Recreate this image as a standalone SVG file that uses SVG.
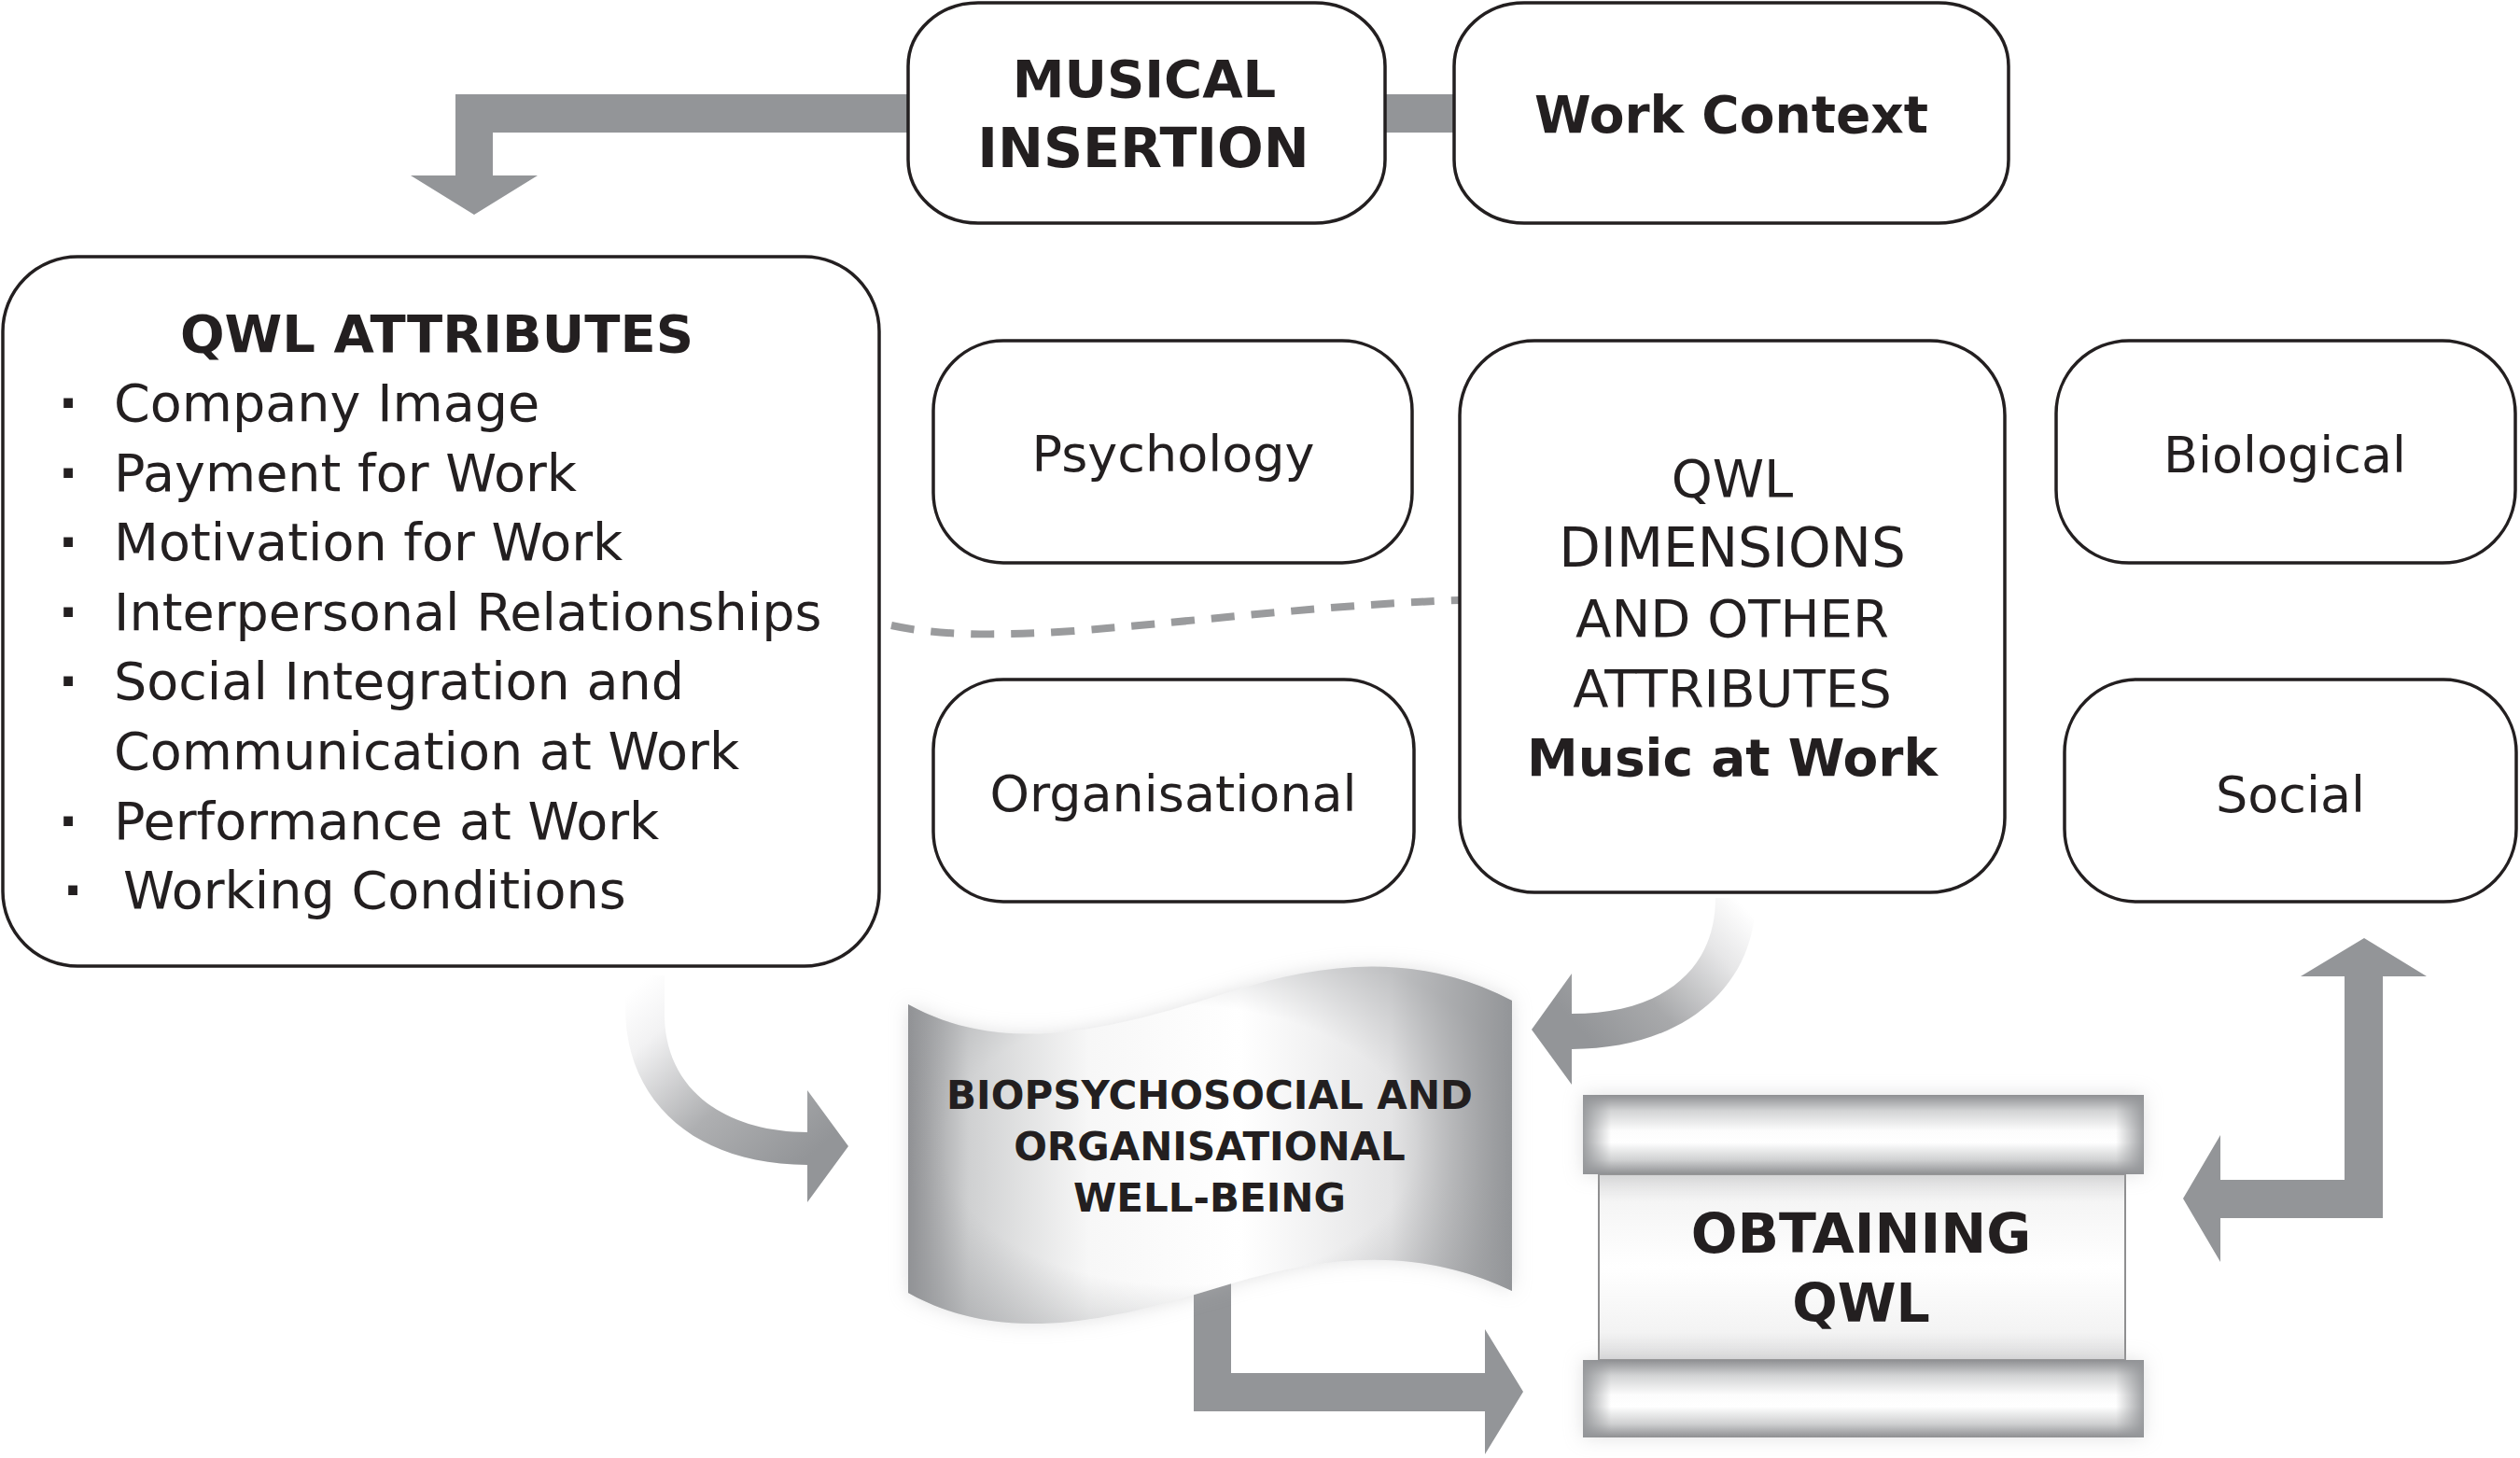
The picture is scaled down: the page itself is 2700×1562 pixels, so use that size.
<svg xmlns="http://www.w3.org/2000/svg" width="2700" height="1562" viewBox="0 0 2700 1562">
<defs>
<style>
.box{fill:#fff;stroke:#231f20;stroke-width:3.5}
.t{font-family:"DejaVu Sans",Verdana,sans-serif;fill:#231f20}
.r{font-size:54px}
.b{font-weight:bold}
.c{text-anchor:middle}
.arrow{fill:#939598}
.dash{fill:none;stroke:#9a9b9d;stroke-width:8;stroke-dasharray:25 18}
</style>
<linearGradient id="gA" gradientUnits="userSpaceOnUse" x1="690" y1="1050" x2="860" y2="1245">
<stop offset="0" stop-color="#ffffff"/>
<stop offset="0.2" stop-color="#f2f2f3"/>
<stop offset="0.6" stop-color="#aeafb1"/>
<stop offset="1" stop-color="#939598"/>
</linearGradient>
<linearGradient id="gB" gradientUnits="userSpaceOnUse" x1="1860" y1="962" x2="1700" y2="1110">
<stop offset="0" stop-color="#ffffff"/>
<stop offset="0.25" stop-color="#e6e6e7"/>
<stop offset="0.65" stop-color="#a8a9ab"/>
<stop offset="1" stop-color="#939598"/>
</linearGradient>
<linearGradient id="gFlag" x1="0" y1="0" x2="1" y2="0">
<stop offset="0" stop-color="#8f9093"/>
<stop offset="0.1" stop-color="#cfd0d1"/>
<stop offset="0.3" stop-color="#f7f7f7"/>
<stop offset="0.55" stop-color="#ffffff"/>
<stop offset="0.8" stop-color="#e4e4e5"/>
<stop offset="0.94" stop-color="#adaeb0"/>
<stop offset="1" stop-color="#939598"/>
</linearGradient>
<radialGradient id="gFlagEdge" cx="0.45" cy="0.5" r="0.6">
<stop offset="0" stop-color="#939598" stop-opacity="0"/>
<stop offset="0.65" stop-color="#939598" stop-opacity="0"/>
<stop offset="1" stop-color="#939598" stop-opacity="0.45"/>
</radialGradient>
<linearGradient id="gBar" x1="0" y1="0" x2="0" y2="1">
<stop offset="0" stop-color="#8e8f92"/>
<stop offset="0.2" stop-color="#d2d3d4"/>
<stop offset="0.45" stop-color="#fcfcfc"/>
<stop offset="0.6" stop-color="#ffffff"/>
<stop offset="0.82" stop-color="#d0d1d2"/>
<stop offset="1" stop-color="#8e8f92"/>
</linearGradient>
<linearGradient id="gBarH" x1="0" y1="0" x2="1" y2="0">
<stop offset="0" stop-color="#939598" stop-opacity="0.9"/>
<stop offset="0.05" stop-color="#939598" stop-opacity="0"/>
<stop offset="0.95" stop-color="#939598" stop-opacity="0"/>
<stop offset="1" stop-color="#939598" stop-opacity="0.9"/>
</linearGradient>
<linearGradient id="gPanel" x1="0" y1="0" x2="0" y2="1">
<stop offset="0" stop-color="#dcdcdd"/>
<stop offset="0.15" stop-color="#f5f5f5"/>
<stop offset="0.5" stop-color="#ffffff"/>
<stop offset="0.85" stop-color="#f3f3f3"/>
<stop offset="1" stop-color="#dcdcdd"/>
</linearGradient>
<filter id="halo" x="-10%" y="-20%" width="120%" height="140%">
<feGaussianBlur in="SourceAlpha" stdDeviation="10" result="b"/>
<feFlood flood-color="#b4b4b6" flood-opacity="0.4"/>
<feComposite in2="b" operator="in" result="s"/>
<feMerge><feMergeNode in="s"/><feMergeNode in="SourceGraphic"/></feMerge>
</filter>
</defs>
<rect width="2700" height="1562" fill="#fff"/>

<g id="connectors">
<path class="arrow" d="M1560 101 L488 101 L488 188 L440 188 L508 230 L576 188 L528 188 L528 142 L1560 142 Z"/>
<path class="dash" d="M955 670 C1000 680 1060 682 1150 676 C1300 664 1420 648 1564 643"/>
<path fill="url(#gA)" d="M670 1045 L712 1045 L712 1090 C714 1170 780 1213 865 1213 L865 1168 L909 1228 L865 1288 L865 1248 C745 1248 670 1180 670 1080 Z"/>
<path fill="url(#gB)" d="M1838 962 C1838 1040 1780 1086 1684 1086 L1684 1043 L1641 1103 L1684 1162 L1684 1124 C1800 1124 1881 1060 1881 962 Z"/>
<path class="arrow" d="M1279 1360 L1319 1360 L1319 1471 L1591 1471 L1591 1424 L1632 1491 L1591 1558 L1591 1512 L1279 1512 Z"/>
<path class="arrow" d="M2533 1005 L2600 1046 L2553 1046 L2553 1305 L2379 1305 L2379 1352 L2339 1284 L2379 1216 L2379 1264 L2512 1264 L2512 1046 L2465 1046 Z"/>
</g>

<g id="musical-insertion">
<rect class="box" x="973" y="3" width="511" height="236" rx="75" ry="68"/>
<text class="t b c" font-size="56" x="1226" y="104">MUSICAL</text>
<text class="t b c" font-size="58.5" x="1225" y="179">INSERTION</text>
</g>

<g id="work-context">
<rect class="box" x="1558" y="3" width="594" height="236" rx="75" ry="68"/>
<text class="t b c" font-size="55" x="1855" y="142">Work Context</text>
</g>

<g id="qwl-attributes">
<rect class="box" x="3" y="275" width="939" height="760" rx="80"/>
<text class="t b c" font-size="56" x="468" y="377">QWL ATTRIBUTES</text>
<g class="t" font-size="55.6">
<text x="73" y="451" class="c b">·</text><text x="122" y="451">Company Image</text>
<text x="73" y="526" class="c b">·</text><text x="122" y="526">Payment for Work</text>
<text x="73" y="600" class="c b">·</text><text x="122" y="600">Motivation for Work</text>
<text x="73" y="675" class="c b">·</text><text x="122" y="675">Interpersonal Relationships</text>
<text x="73" y="749" class="c b">·</text><text x="122" y="749">Social Integration and</text>
<text x="122" y="824">Communication at Work</text>
<text x="73" y="899" class="c b">·</text><text x="122" y="899">Performance at Work</text>
<text x="78" y="973" class="c b">·</text><text x="132" y="973">Working Conditions</text>
</g>
</g>

<g id="psychology">
<rect class="box" x="1000" y="365" width="513" height="238" rx="75"/>
<text class="t r c" x="1257" y="505">Psychology</text>
</g>

<g id="organisational">
<rect class="box" x="1000" y="728" width="515" height="238" rx="75"/>
<text class="t r c" x="1257" y="869">Organisational</text>
</g>

<g id="qwl-dimensions">
<rect class="box" x="1564" y="365" width="584" height="591" rx="80"/>
<g class="t c" font-size="56">
<text x="1856" y="532">QWL</text>
<text x="1856" y="607" font-size="58">DIMENSIONS</text>
<text x="1856" y="682">AND OTHER</text>
<text x="1856" y="757">ATTRIBUTES</text>
<text x="1856" y="831" class="b" font-size="55">Music at Work</text>
</g>
</g>

<g id="biological">
<rect class="box" x="2203" y="365" width="492" height="238" rx="78"/>
<text class="t r c" x="2448" y="506">Biological</text>
</g>

<g id="social">
<rect class="box" x="2212" y="728" width="484" height="238" rx="78"/>
<text class="t r c" x="2454" y="870">Social</text>
</g>

<g id="wellbeing">
<path filter="url(#halo)" fill="url(#gFlag)" d="M973 1076 C1080 1135 1200 1100 1320 1062 C1420 1030 1520 1020 1620 1072 L1620 1383 C1520 1335 1420 1345 1320 1375 C1200 1412 1080 1445 973 1385 Z"/>
<path fill="url(#gFlagEdge)" d="M973 1076 C1080 1135 1200 1100 1320 1062 C1420 1030 1520 1020 1620 1072 L1620 1383 C1520 1335 1420 1345 1320 1375 C1200 1412 1080 1445 973 1385 Z"/>
<g class="t b c" font-size="42">
<text x="1296" y="1188">BIOPSYCHOSOCIAL AND</text>
<text x="1296" y="1243">ORGANISATIONAL</text>
<text x="1296" y="1298">WELL-BEING</text>
</g>
</g>

<g id="obtaining-qwl">
<rect x="1713" y="1258" width="564" height="199" fill="url(#gPanel)" stroke="#8f8f90" stroke-width="2"/>
<g filter="url(#halo)">
<rect x="1696" y="1173" width="601" height="85" fill="url(#gBar)"/>
<rect x="1696" y="1457" width="601" height="83" fill="url(#gBar)"/>
</g>
<rect x="1696" y="1173" width="601" height="85" fill="url(#gBarH)"/>
<rect x="1696" y="1457" width="601" height="83" fill="url(#gBarH)"/>
<text class="t b c" font-size="58.5" x="1994" y="1342">OBTAINING</text>
<text class="t b c" font-size="57" x="1994" y="1416">QWL</text>
</g>
</svg>
